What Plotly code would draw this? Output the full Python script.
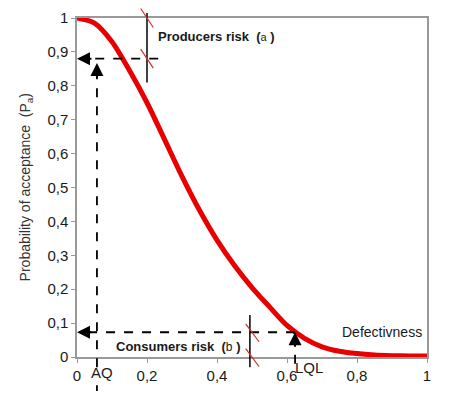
import plotly.graph_objects as go

# Operating characteristic curve
defect = [0.0, 0.05, 0.10, 0.15, 0.20, 0.25, 0.30, 0.35, 0.40, 0.45, 0.50,
          0.55, 0.60, 0.65, 0.70, 0.75, 0.80, 0.85, 0.90, 0.95, 1.0]
p_accept = [1.0, 0.985, 0.93, 0.845, 0.75, 0.642, 0.533, 0.433, 0.345, 0.27, 0.205,
            0.148, 0.093, 0.055, 0.030, 0.017, 0.010, 0.006, 0.004, 0.003, 0.003]

x_ticks = [0, 0.2, 0.4, 0.6, 0.8, 1]
x_tick_labels = ["0", "0,2", "0,4", "0,6", "0,8", "1"]
y_ticks = [0, 0.1, 0.2, 0.3, 0.4, 0.5, 0.6, 0.7, 0.8, 0.9, 1]
y_tick_labels = ["0", "0,1", "0,2", "0,3", "0,4", "0,5", "0,6", "0,7", "0,8", "0,9", "1"]

AQ = 0.057
LQL = 0.623
alpha_level = 0.88
beta_level = 0.073
producer_x = 0.2
consumer_x = 0.494

FONT = "Liberation Sans, Arial, sans-serif"

fig = go.Figure()
fig.add_trace(go.Scatter(x=defect, y=p_accept, mode="lines",
                         line=dict(color="#e80000", width=5, shape="spline", smoothing=0.8),
                         hoverinfo="skip", showlegend=False))

shapes = []
def line(x0, y0, x1, y1, color="black", width=1.5, dash="solid"):
    shapes.append(dict(type="line", xref="paper", yref="paper", x0=x0, y0=y0, x1=x1, y1=y1,
                       line=dict(color=color, width=width, dash=dash), layer="above"))

# Producers risk
line(producer_x, 1.015, producer_x, 0.81)
line(0.232, alpha_level, 0.03, alpha_level, dash="dash", width=1.8)
line(AQ, -0.03, AQ, alpha_level - 0.04, dash="dash", width=1.8)
line(AQ, -0.083, AQ, -0.1, width=1.8)
for yc in (1.0, alpha_level):
    line(producer_x - 0.018, yc + 0.028, producer_x + 0.018, yc - 0.028, color="#d03030", width=1.2)

# Consumers risk
line(consumer_x, 0.124, consumer_x, -0.03)
line(LQL, beta_level, 0.03, beta_level, dash="dash", width=1.8)
line(LQL, -0.02, LQL, 0.02, dash="dash", width=1.8)
for yc in (beta_level, 0.0):
    line(consumer_x - 0.012, yc + 0.025, consumer_x + 0.026, yc - 0.028, color="#d03030", width=1.2)

annotations = []
def arrow(x, y, ax, ay):
    annotations.append(dict(x=x, y=y, xref="paper", yref="paper", ax=ax, ay=ay, text="",
                            showarrow=True, arrowhead=2, arrowsize=1.3, arrowwidth=2,
                            arrowcolor="black"))
arrow(0.0, alpha_level, 16, 0)
arrow(AQ, alpha_level - 0.013, 0, 16)
arrow(0.0, beta_level, 16, 0)
arrow(LQL, beta_level, 0, 16)

def text(x, y, s, size=14, xanchor="left", angle=0, color="#1a1a1a"):
    annotations.append(dict(x=x, y=y, xref="paper", yref="paper", text=s, showarrow=False,
                            xanchor=xanchor, yanchor="middle", textangle=angle,
                            font=dict(family=FONT, size=size, color=color)))

text(0.226, 0.944, "<b>Producers risk  (</b><span style='font-size:11px'>a</span><b> )</b>", size=13)
text(0.106, 0.03, "<b>Consumers risk  (</b><span style='font-size:12px'>b</span><b> )</b>", size=13)
text(0.99, 0.074, "Defectivness", size=14, xanchor="right")
text(0.072, -0.047, "AQ", size=15, xanchor="center")
text(LQL - 0.005, -0.032, "LQL", size=15)
text(-0.146, 0.5, "Probability of acceptance  (P<sub>a</sub>)", size=14, xanchor="center",
     angle=-90, color="#333333")

axis_common = dict(range=[0, 1], showgrid=False, zeroline=False, showline=True, mirror=True,
                   linecolor="#999999", linewidth=1.5, ticks="outside", ticklen=4,
                   tickcolor="#999999", automargin=False,
                   tickfont=dict(family=FONT, size=15, color="#1a1a1a"))

# page body adds an 8px offset; compensate so the plot area sits where the reference's does
fig.update_layout(
    width=466, height=391,
    margin=dict(l=69, r=47, t=10, b=42),
    paper_bgcolor="white", plot_bgcolor="white",
    xaxis=dict(tickvals=x_ticks, ticktext=x_tick_labels, **axis_common),
    yaxis=dict(tickvals=y_ticks, ticktext=y_tick_labels, **axis_common),
    shapes=shapes, annotations=annotations,
)

fig.write_html("out.html")
